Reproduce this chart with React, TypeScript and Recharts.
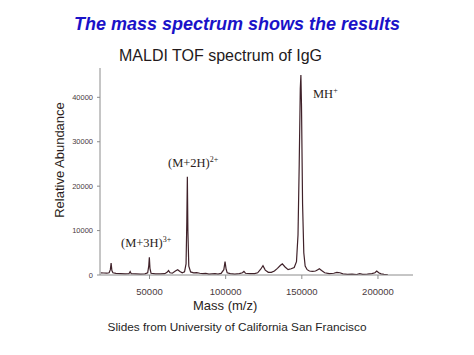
import React from 'react';
import { LineChart, Line, XAxis, YAxis } from 'recharts';

// spectrum: mass (m/z) and abundance
const masses = [
  18000, 20000, 22000, 23500, 24300, 24800, 25300, 26000, 28000, 31000,
  34000, 36500, 37300, 38000, 41000, 44000, 47000, 48800, 49500, 49900,
  50300, 51000, 54000, 57000, 60000, 61500, 62500, 63500, 65000, 67000,
  68500, 70000, 71500, 73000, 74000, 74500, 74850, 75200, 75800, 77000,
  79000, 81000, 83000, 85000, 87000, 89000, 91000, 93000, 95000, 97000,
  98800, 99600, 100300, 101000, 103000, 106000, 109000, 111000, 112000, 113000,
  116000, 119000, 121000, 123000, 124500, 126000, 128000, 130000, 132000, 134000,
  136000, 137200, 139000, 141000, 143000, 145000, 146500, 147500, 148300, 149000,
  149400, 149800, 150500, 151300, 152200, 153500, 155000, 157000, 159000, 160500,
  161500, 163000, 165000, 168000, 171000, 173000, 175000, 177000, 180000, 183000,
  186000, 188000, 190000, 193000, 196000, 198000, 199200, 200500, 202000, 204000,
  206500,
];
const abundance = [
  500, 450, 400, 500, 1200, 2700, 1000, 500, 350, 300,
  250, 300, 800, 300, 250, 200, 250, 500, 2000, 4000,
  1500, 400, 250, 250, 300, 600, 1000, 500, 400, 900,
  1200, 800, 500, 700, 2500, 12000, 22100, 10000, 2000, 700,
  500, 550, 400, 300, 350, 200, 250, 300, 200, 350,
  1200, 3000, 1300, 500, 300, 200, 300, 500, 800, 400,
  300, 300, 500, 1300, 2100, 1100, 600, 600, 900, 1500,
  2200, 2500, 1800, 1200, 1400, 1700, 3000, 9000, 25000, 42000,
  45000, 38000, 16000, 5000, 2000, 1200, 900, 800, 900, 1200,
  1400, 1000, 500, 300, 400, 600, 500, 250, 150, 200,
  100, 300, 150, 200, 300, 500, 900, 500, 250, 150,
  50,
];

const xTicks = [50000, 100000, 150000, 200000];
const yTicks = [0, 10000, 20000, 30000, 40000];

const data = masses.map((m, i) => ({ mass: m, value: abundance[i] }));

const sans = '"Liberation Sans", Arial, sans-serif';
const serif = '"Liberation Serif", "Times New Roman", serif';
const axisGray = '#8c8c8c';
const tickColor = '#4a3a40';

const App: React.FC = () => {
  return (
    <div style={{ position: 'absolute', left: 0, top: 0, width: 474, height: 355, background: '#fff', fontFamily: sans }}>
      <div style={{ position: 'absolute', left: 0, width: 474, top: 14, textAlign: 'center', fontSize: 18, fontWeight: 'bold', fontStyle: 'italic', color: '#1a12c8' }}>
        The mass spectrum shows the results
      </div>
      <div style={{ position: 'absolute', left: 119, top: 47, fontSize: 16, color: '#231a1c', whiteSpace: 'nowrap' }}>
        MALDI TOF spectrum of IgG
      </div>

      <LineChart width={474} height={355} data={data} margin={{ top: 68, right: 61, bottom: 50, left: 0 }}>
        <XAxis
          dataKey="mass"
          type="number"
          domain={[17500, 223000]}
          ticks={xTicks}
          allowDataOverflow
          height={30}
          stroke={axisGray}
          tickSize={4}
          tickMargin={9}
          tick={{ fill: tickColor, fontSize: 9.5, fontFamily: sans }}
        />
        <YAxis
          type="number"
          domain={[0, 46600]}
          ticks={yTicks}
          allowDataOverflow
          width={100}
          stroke={axisGray}
          tickSize={3}
          tickMargin={4}
          tick={{ fill: tickColor, fontSize: 7.5, fontFamily: sans }}
        />
        <Line
          dataKey="value"
          type="linear"
          stroke="#40222a"
          strokeWidth={1.2}
          dot={false}
          isAnimationActive={false}
        />
      </LineChart>

      <div style={{ position: 'absolute', left: 59, top: 160, transform: 'translate(-50%, -50%) rotate(-90deg)', fontSize: 13, color: '#2a1d20', whiteSpace: 'nowrap' }}>
        Relative Abundance
      </div>
      <div style={{ position: 'absolute', left: 193, top: 298, fontSize: 13, color: '#2a1d20', whiteSpace: 'nowrap' }}>
        Mass (m/z)
      </div>
      <div style={{ position: 'absolute', left: 0, width: 474, top: 320, textAlign: 'center', fontSize: 11.8, color: '#1e1e1e' }}>
        Slides from University of California San Francisco
      </div>

      <div style={{ position: 'absolute', left: 313, top: 86, fontFamily: serif, fontSize: 12.5, color: '#2a1d20', whiteSpace: 'nowrap' }}>
        MH<sup style={{ fontSize: 8 }}>+</sup>
      </div>
      <div style={{ position: 'absolute', left: 168, top: 155, fontFamily: serif, fontSize: 12.5, color: '#2a1d20', whiteSpace: 'nowrap' }}>
        (M+2H)<sup style={{ fontSize: 8 }}>2+</sup>
      </div>
      <div style={{ position: 'absolute', left: 121, top: 235, fontFamily: serif, fontSize: 12.5, color: '#2a1d20', whiteSpace: 'nowrap' }}>
        (M+3H)<sup style={{ fontSize: 8 }}>3+</sup>
      </div>
    </div>
  );
};

export default App;
